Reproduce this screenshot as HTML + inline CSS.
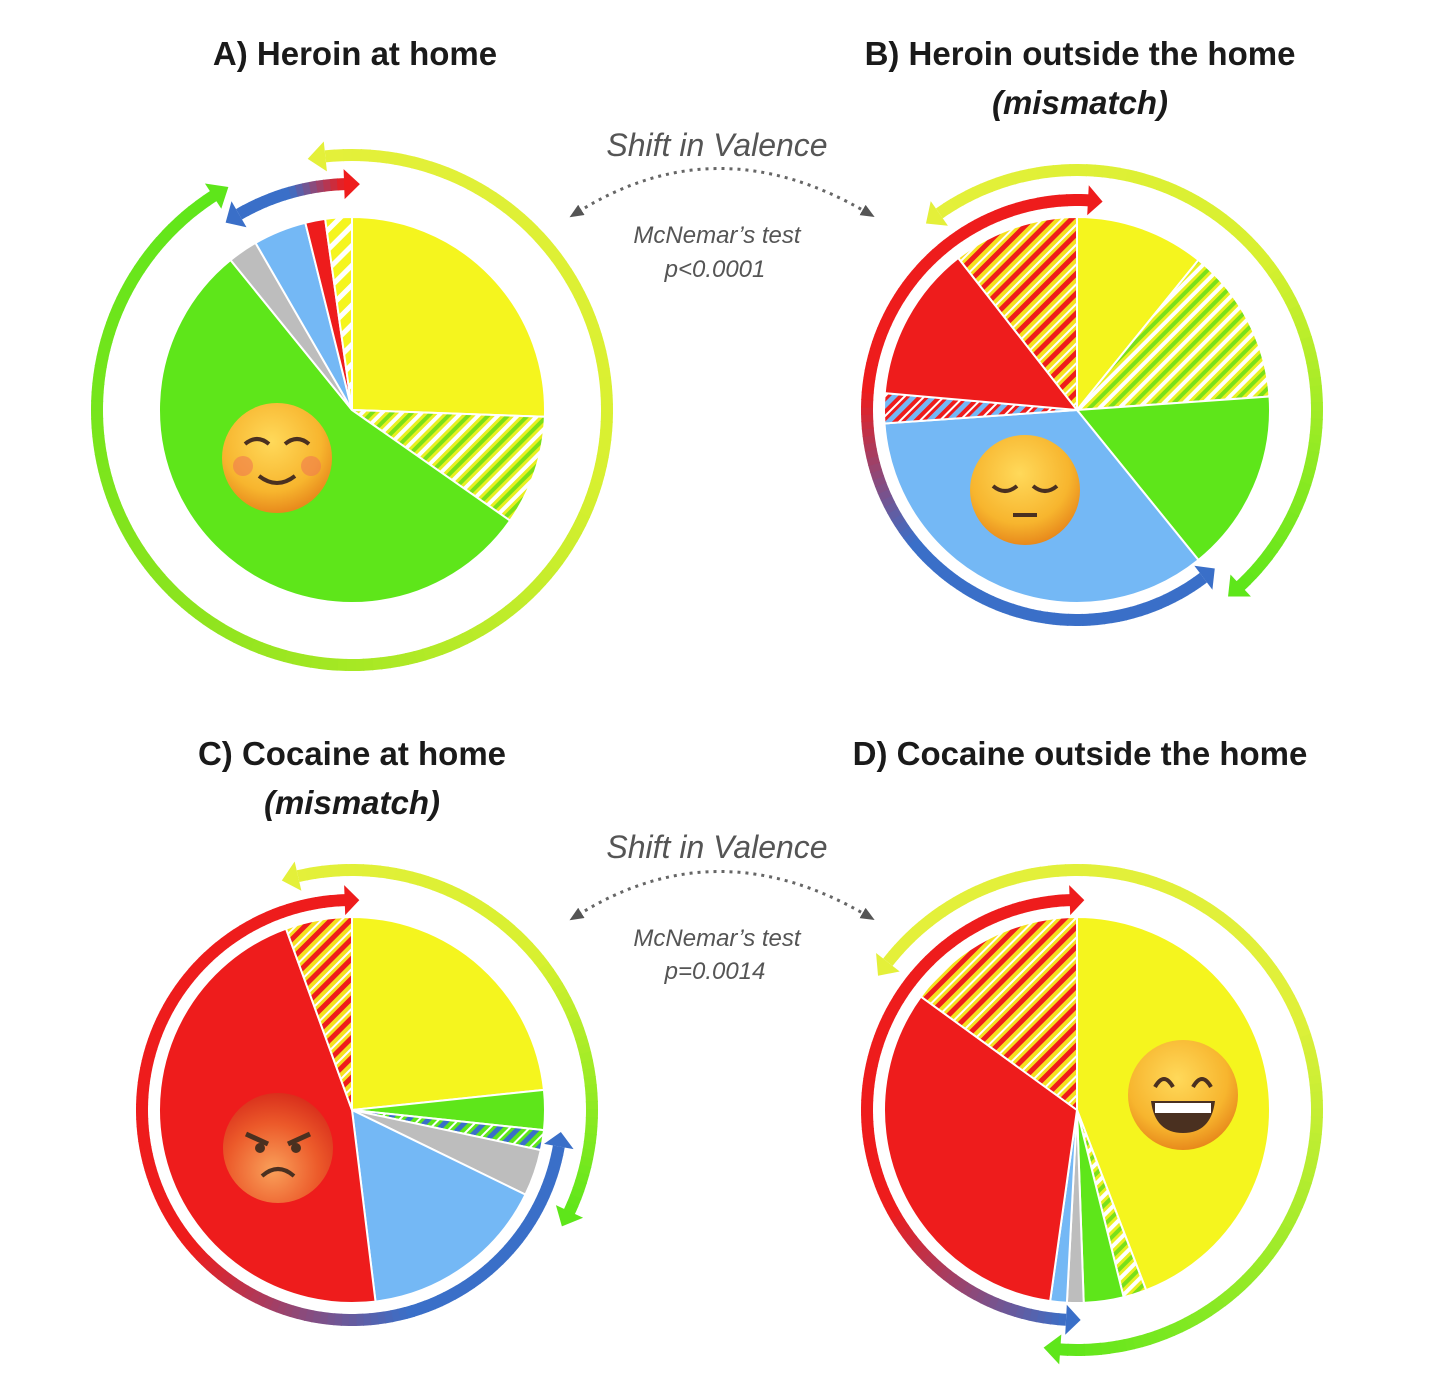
<!DOCTYPE html>
<html><head><meta charset="utf-8">
<style>
html,body{margin:0;padding:0;background:#fff;}
body{width:1440px;height:1395px;position:relative;overflow:hidden;font-family:"Liberation Sans",sans-serif;}
.t{position:absolute;font-weight:bold;font-size:33px;color:#1a1a1a;text-align:center;white-space:nowrap;transform:translateX(-50%);}
.i{font-style:italic;}
.g{position:absolute;color:#555;font-style:italic;text-align:center;white-space:nowrap;transform:translateX(-50%);}
svg{position:absolute;left:0;top:0;}
</style></head><body>
<svg id="s" width="1440" height="1395" xmlns="http://www.w3.org/2000/svg">
<defs>
<pattern id="hy" width="14" height="14" patternUnits="userSpaceOnUse" patternTransform="rotate(45)"><rect width="14" height="14" fill="#f5f51e"/><rect width="5" height="14" fill="#fff"/></pattern>
<pattern id="hyg" width="14" height="14" patternUnits="userSpaceOnUse" patternTransform="rotate(45)"><rect width="14" height="14" fill="#e8f020"/><rect width="4" height="14" fill="#fff"/><rect x="7" width="4" height="14" fill="#7ae01a"/></pattern>
<pattern id="hry" width="14" height="14" patternUnits="userSpaceOnUse" patternTransform="rotate(45)"><rect width="14" height="14" fill="#f5e020"/><rect width="5" height="14" fill="#ee1c1c"/><rect x="9" width="2" height="14" fill="#fff"/></pattern>
<pattern id="hbr" width="14" height="14" patternUnits="userSpaceOnUse" patternTransform="rotate(45)"><rect width="14" height="14" fill="#ee1c1c"/><rect width="5" height="14" fill="#74b8f5"/><rect x="9" width="2" height="14" fill="#fff"/></pattern>
<pattern id="hbg" width="14" height="14" patternUnits="userSpaceOnUse" patternTransform="rotate(45)"><rect width="14" height="14" fill="#5ee61a"/><rect width="5" height="14" fill="#3a6fc8"/><rect x="9" width="2" height="14" fill="#fff"/></pattern>
<radialGradient id="em" cx="45%" cy="35%" r="65%"><stop offset="0" stop-color="#ffd95a"/><stop offset="0.7" stop-color="#f7b52e"/><stop offset="1" stop-color="#e88a1c"/></radialGradient>
<radialGradient id="emr" cx="45%" cy="70%" r="70%"><stop offset="0" stop-color="#f9a05a"/><stop offset="0.6" stop-color="#ec5a2a"/><stop offset="1" stop-color="#d9301c"/></radialGradient>
<marker id="ah" markerWidth="16" markerHeight="16" refX="4" refY="6" orient="auto-start-reverse" markerUnits="userSpaceOnUse"><path d="M0,0 L14,6 L0,12 z" fill="#555"/></marker>
</defs>
<g id="g"></g>
<path d="M578,212 Q717,125 866,212" fill="none" stroke="#666" stroke-width="3" stroke-dasharray="3,5" marker-start="url(#ah)" marker-end="url(#ah)"/>
<path d="M578,915 Q717,828 866,915" fill="none" stroke="#666" stroke-width="3" stroke-dasharray="3,5" marker-start="url(#ah)" marker-end="url(#ah)"/>
</svg>
<div class="t" style="left:355px;top:35px">A) Heroin at home</div>
<div class="t" style="left:1080px;top:35px">B) Heroin outside the home</div>
<div class="t i" style="left:1080px;top:84px">(mismatch)</div>
<div class="t" style="left:352px;top:735px">C) Cocaine at home</div>
<div class="t i" style="left:352px;top:784px">(mismatch)</div>
<div class="t" style="left:1080px;top:735px">D) Cocaine outside the home</div>
<div class="g" style="left:717px;top:127px;font-size:32px">Shift in Valence</div>
<div class="g" style="left:717px;top:222px;font-size:24px">McNemar’s test</div>
<div class="g" style="left:715px;top:256px;font-size:24px">p&lt;0.0001</div>
<div class="g" style="left:717px;top:829px;font-size:32px">Shift in Valence</div>
<div class="g" style="left:717px;top:925px;font-size:24px">McNemar’s test</div>
<div class="g" style="left:715px;top:958px;font-size:24px">p=0.0014</div>
<script>
var G=document.getElementById('g'),NS='http://www.w3.org/2000/svg';
function el(t,a){var e=document.createElementNS(NS,t);for(var k in a)e.setAttribute(k,a[k]);G.appendChild(e);return e;}
function pt(cx,cy,r,a){var q=(a-90)*Math.PI/180;return [cx+r*Math.cos(q),cy+r*Math.sin(q)];}
function pie(cx,cy,r,sl){sl.forEach(function(s){var p0=pt(cx,cy,r,s[0]),p1=pt(cx,cy,r,s[1]);var lg=(s[1]-s[0])>180?1:0;
el('path',{d:'M'+cx+','+cy+' L'+p0[0]+','+p0[1]+' A'+r+','+r+' 0 '+lg+' 1 '+p1[0]+','+p1[1]+' Z',fill:s[2],stroke:'#fff','stroke-width':2});});}
function hx(c){return [parseInt(c.substr(1,2),16),parseInt(c.substr(3,2),16),parseInt(c.substr(5,2),16)];}
function mix(cols,t){var n=cols.length-1,i=Math.min(Math.floor(t*n),n-1),f=t*n-i;var a=hx(cols[i]),b=hx(cols[i+1]);
return 'rgb('+[0,1,2].map(function(k){return Math.round(a[k]+(b[k]-a[k])*f);}).join(',')+')';}
function head(cx,cy,r,a,dir,col){var p=pt(cx,cy,r,a+dir*4),b1=pt(cx,cy,r-15,a),b2=pt(cx,cy,r+15,a);
el('path',{d:'M'+p[0]+','+p[1]+' L'+b1[0]+','+b1[1]+' L'+b2[0]+','+b2[1]+' Z',fill:col});}
function arc(cx,cy,r,a0,a1,cols,w){var N=Math.ceil((a1-a0)/2);var s0=a0+2,s1=a1-2;
for(var i=0;i<N;i++){var u=s0+(s1-s0)*i/N,v=s0+(s1-s0)*(i+1)/N+0.3;var p0=pt(cx,cy,r,u),p1=pt(cx,cy,r,v);
el('path',{d:'M'+p0[0]+','+p0[1]+' A'+r+','+r+' 0 0 1 '+p1[0]+','+p1[1],fill:'none',stroke:mix(cols,(i+0.5)/N),'stroke-width':w});}
head(cx,cy,r,s0,-1,cols[0]);head(cx,cy,r,s1,1,cols[cols.length-1]);}
var Y='#f5f51e',GR='#5ee61a',B='#74b8f5',R='#ee1c1c',GY='#bdbdbd';
pie(352,410,193,[[0,92,Y],[92,125,'url(#hyg)'],[125,321,GR],[321,330,GY],[330,346,B],[346,352,R],[352,360,'url(#hy)']]);
arc(352,410,255,-8,329,['#e4f03a','#d8f030','#8ee41e','#5ee61a'],12);
arc(352,410,226,-32,0,['#3a6fc8','#3a6fc8','#ee1c1c'],12);
pie(1077,410,193,[[0,39,Y],[39,86,'url(#hyg)'],[86,141,GR],[141,266,B],[266,275,'url(#hbr)'],[275,322,R],[322,360,'url(#hry)']]);
arc(1077,410,240,-37,139,['#e4f03a','#d8f030','#5ee61a'],12);
arc(1077,410,210,141,365,['#3a6fc8','#3a6fc8','#3a6fc8','#ee1c1c','#ee1c1c','#ee1c1c'],12);
pie(352,1110,193,[[0,84,Y],[84,96,GR],[96,102,'url(#hbg)'],[102,116,GY],[116,173,B],[173,340,R],[340,360,'url(#hry)']]);
arc(352,1110,240,-15,117,['#e4f03a','#d8f030','#5ee61a'],12);
arc(352,1110,210,98,360,['#3a6fc8','#3a6fc8','#ee1c1c','#ee1c1c','#ee1c1c'],12);
pie(1077,1110,193,[[0,159,Y],[159,166,'url(#hyg)'],[166,178,GR],[178,183,GY],[183,188,B],[188,306,R],[306,360,'url(#hry)']]);
arc(1077,1110,240,-54,186,['#e4f03a','#e0f03a','#5ee61a'],12);
arc(1077,1110,210,181,360,['#3a6fc8','#ee1c1c','#ee1c1c','#ee1c1c'],12);
function face(x,y,f,type){el('circle',{cx:x,cy:y,r:55,fill:f});var c='#4a3020';
if(type=='a'){el('path',{d:'M'+(x-32)+','+(y-14)+' q12,-10 24,0 M'+(x+8)+','+(y-14)+' q12,-10 24,0',stroke:c,'stroke-width':4,fill:'none'});
el('path',{d:'M'+(x-18)+','+(y+18)+' q18,14 36,0',stroke:c,'stroke-width':4,fill:'none'});
el('circle',{cx:x-34,cy:y+8,r:10,fill:'#f07a50',opacity:0.6});el('circle',{cx:x+34,cy:y+8,r:10,fill:'#f07a50',opacity:0.6});}
if(type=='b'){el('path',{d:'M'+(x-32)+','+(y-4)+' q12,10 24,0 M'+(x+8)+','+(y-4)+' q12,10 24,0',stroke:c,'stroke-width':4,fill:'none'});
el('path',{d:'M'+(x-12)+','+(y+25)+' h24',stroke:c,'stroke-width':4});}
if(type=='c'){el('path',{d:'M'+(x-32)+','+(y-14)+' l22,10 M'+(x+32)+','+(y-14)+' l-22,10',stroke:c,'stroke-width':5});
el('circle',{cx:x-18,cy:y,r:5,fill:c});el('circle',{cx:x+18,cy:y,r:5,fill:c});
el('path',{d:'M'+(x-16)+','+(y+28)+' q16,-14 32,0',stroke:c,'stroke-width':4,fill:'none'});}
if(type=='d'){el('path',{d:'M'+(x-28)+','+(y-8)+' q9,-16 18,0 M'+(x+10)+','+(y-8)+' q9,-16 18,0',stroke:c,'stroke-width':4,fill:'none'});
el('path',{d:'M'+(x-32)+','+(y+6)+' h64 q-4,32 -32,32 q-28,0 -32,-32 z',fill:c});
el('rect',{x:x-28,y:y+8,width:56,height:10,fill:'#fff'});}}
face(277,458,'url(#em)','a');face(1025,490,'url(#em)','b');face(278,1148,'url(#emr)','c');face(1183,1095,'url(#em)','d');
</script>
</body></html>
